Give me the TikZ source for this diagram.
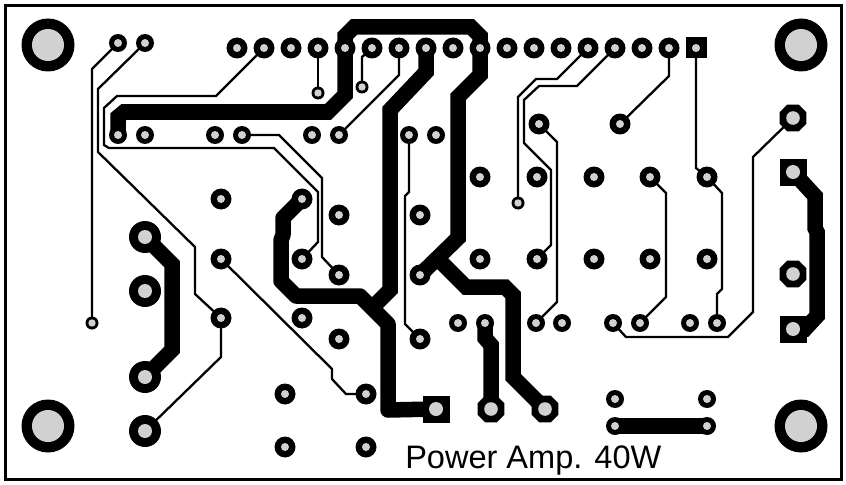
\documentclass[tikz,border=0pt]{standalone}
\usepackage{fontspec}
\setmainfont{Liberation Sans}
\usetikzlibrary{backgrounds,shapes.geometric}
\newcommand{\pxu}{.75pt}
\definecolor{holegray}{gray}{.82}
\tikzset{
	drillhole/.style={path picture={\fill[holegray] (path picture bounding box.center) circle (#1*\pxu);}},
	pad/.style={fill=black,inner sep=0pt,outer sep=0pt},
	mounthole/.style={pad,circle,minimum size=53*\pxu,drillhole=16},
	padbig/.style={pad,circle,minimum size=32*\pxu,drillhole=7},
	padmid/.style={pad,circle,minimum size=21*\pxu,drillhole=4},
	padsmall/.style={pad,circle,minimum size=18*\pxu,drillhole=4},
	padvia/.style={pad,circle,minimum size=13*\pxu,drillhole=3.7},
	padsquare/.style={pad,rectangle,minimum size=21*\pxu,drillhole=4},
	padsquarebig/.style={pad,rectangle,minimum size=27*\pxu,drillhole=7},
	padoct/.style={pad,regular polygon,regular polygon sides=8,minimum size=29.2*\pxu,drillhole=6.8},
	track/.style={draw=black,line width=2.3*\pxu},
	power/.style={draw=black,line width=15.5*\pxu},
}
\begin{document}
\begin{tikzpicture}[x=.75pt,y=-.75pt]
	\useasboundingbox (0,0) rectangle (846,485);
	\draw[line width=3*\pxu] (5.5,5.5) rectangle (841,479.5);
	% mounting holes
	\node[mounthole] (mtl) at (48,45) {};
	\node[mounthole] (mtr) at (801,45) {};
	\node[mounthole] (mbl) at (48,426) {};
	\node[mounthole] (mbr) at (801,426) {};
	% header row
	\foreach \i in {1,...,17}
		\node[padmid] (h\i) at ({210+27*\i},48) {};
	\node[padsquare] (h18) at (696,48) {};
	% small pads
	\node[padsmall] (a1) at (118,43) {};
	\node[padsmall] (a2) at (145,43) {};
	\node[padsmall] (b1) at (118,135) {};
	\node[padsmall] (b2) at (145,135) {};
	\node[padsmall] (b3) at (215,135) {};
	\node[padsmall] (b4) at (242,135) {};
	\node[padsmall] (b5) at (312,135) {};
	\node[padsmall] (b6) at (339,135) {};
	\node[padsmall] (b7) at (409,135) {};
	\node[padsmall] (b8) at (436,135) {};
	\node[padsmall] (c1) at (458,323) {};
	\node[padsmall] (c2) at (485,323) {};
	\node[padsmall] (c3) at (536,323) {};
	\node[padsmall] (c4) at (562,323) {};
	\node[padsmall] (c5) at (613,323) {};
	\node[padsmall] (c6) at (640,323) {};
	\node[padsmall] (c7) at (690,323) {};
	\node[padsmall] (c8) at (717,323) {};
	\node[padsmall] (d1) at (615,399) {};
	\node[padsmall] (d2) at (707,399) {};
	\node[padsmall] (d3) at (615,426) {};
	\node[padsmall] (d4) at (707,426) {};
	% vias
	\node[padvia] (v1) at (318,93) {};
	\node[padvia] (v2) at (362,87) {};
	\node[padvia] (v3) at (518,203) {};
	\node[padvia] (v4) at (92,323) {};
	% transistor and resistor pads
	\node[padmid] (e1) at (221,199) {};
	\node[padmid] (e2) at (302,199) {};
	\node[padmid] (e3) at (339,215) {};
	\node[padmid] (e4) at (420,215) {};
	\node[padmid] (e5) at (221,259) {};
	\node[padmid] (e6) at (302,259) {};
	\node[padmid] (e7) at (339,275) {};
	\node[padmid] (e8) at (420,275) {};
	\node[padmid] (e9) at (221,318) {};
	\node[padmid] (e10) at (302,318) {};
	\node[padmid] (e11) at (339,339) {};
	\node[padmid] (e12) at (420,339) {};
	\node[padmid] (e13) at (285,394) {};
	\node[padmid] (e14) at (366,394) {};
	\node[padmid] (e15) at (285,447) {};
	\node[padmid] (e16) at (366,447) {};
	\node[padmid] (f1) at (539,124) {};
	\node[padmid] (f2) at (620,124) {};
	\foreach \n/\x in {1/480,2/537,3/594,4/650,5/707} {
		\node[padmid] (g\n) at (\x,177) {};
		\node[padmid] (k\n) at (\x,259) {};
	}
	% big pads
	\node[padbig] (p1) at (145,237) {};
	\node[padbig] (p2) at (145,291) {};
	\node[padbig] (p3) at (145,377) {};
	\node[padbig] (p4) at (145,431) {};
	\node[padoct] (q1) at (793,118) {};
	\node[padsquarebig] (q2) at (793,172) {};
	\node[padoct] (q3) at (793,274) {};
	\node[padsquarebig] (q4) at (793,329) {};
	\node[padsquarebig] (q5) at (436,409) {};
	\node[padoct] (q6) at (491,409) {};
	\node[padoct] (q7) at (545,409) {};
	\node[anchor=base west,inner sep=0pt,font=\fontsize{24.4}{24.4}\selectfont] (title) at (405,468) {Power Amp. 40W};
	\coordinate (jct1) at (437.5,258.5);
	\coordinate (jct2) at (377,303);
	\begin{scope}[on background layer]
		\fill[white] (0,0) rectangle (846,485);
		% thin tracks
		\draw[track] (a1.center) -- (92,69) -- (v4.center);
		\draw[track] (a2.center) -- (98,89) -- (98,152) -- (195,247) -- (195,294) -- (e9.center) -- (221,357) -- (p4.center);
		\draw[track] (h2.center) -- (216,96) -- (117,96) -- (104,108) -- (104,145) -- (109,148) -- (274,148) -- (318,192) -- (318,242) -- (e6.center);
		\draw[track] (b4.center) -- (279,135) -- (322,178) -- (322,257) -- (e7.center);
		\draw[track] (h4.center) -- (v1.center);
		\draw[track] (h6.center) -- (362,57) -- (v2.center);
		\draw[track] (h7.center) -- (399,75) -- (b6.center);
		\draw[track] (b7.center) -- (409,192) -- (405,196) -- (405,324) -- (e12.center);
		\draw[track] (h14.center) -- (557,79) -- (536,79) -- (518,97) -- (v3.center);
		\draw[track] (h15.center) -- (577,86) -- (539,86) -- (524,100) -- (524,143) -- (551,170) -- (551,245) -- (k2.center);
		\draw[track] (f1.center) -- (557,142) -- (557,302) -- (c3.center);
		\draw[track] (h17.center) -- (669,76) -- (f2.center);
		\draw[track] (h18.center) -- (696,168) -- (g5.center);
		\draw[track] (g4.center) -- (666,193) -- (666,297) -- (c6.center);
		\draw[track] (g5.center) -- (722,193) -- (722,289) -- (717,294) -- (c8.center);
		\draw[track] (q1.center) -- (753,157) -- (753,312) -- (728,337) -- (626,337) -- (c5.center);
		\draw[track] (e5.center) -- (332,369) -- (332,379) -- (346,394) -- (e14.center);
		% power tracks
		\draw[power] (b1.center) -- (118,117) -- (124,112) -- (328,112) -- (345,95) -- (345,36) -- (354,27) -- (471,27) -- (480,36) -- (480,75) -- (458,97) -- (458,238) -- (e8.center);
		\draw[power] (jct1) -- (466,287) -- (505,287) -- (513,295) -- (513,377) -- (q7.center);
		\draw[power] (h8.center) -- (426,72) -- (390,110) -- (390,290) -- (jct2);
		\draw[power,line join=round] (e2.center) -- (283,218) -- (283,235) -- (281,240) -- (281,281) -- (296,296) -- (360,296) -- (388,324) -- (388,410) -- (q5.center);
		\draw[power] (p1.center) -- (172,264) -- (172,350) -- (p3.center);
		\draw[power] (q2.center) -- (815,196) -- (815,228) -- (817,232) -- (817,316) -- (805,329) -- (q4.center);
		\draw[power] (c2.center) -- (485,338) -- (491,345) -- (q6.center);
		\draw[power] (d3.center) -- (d4.center);
	\end{scope}
\end{tikzpicture}
\end{document}
